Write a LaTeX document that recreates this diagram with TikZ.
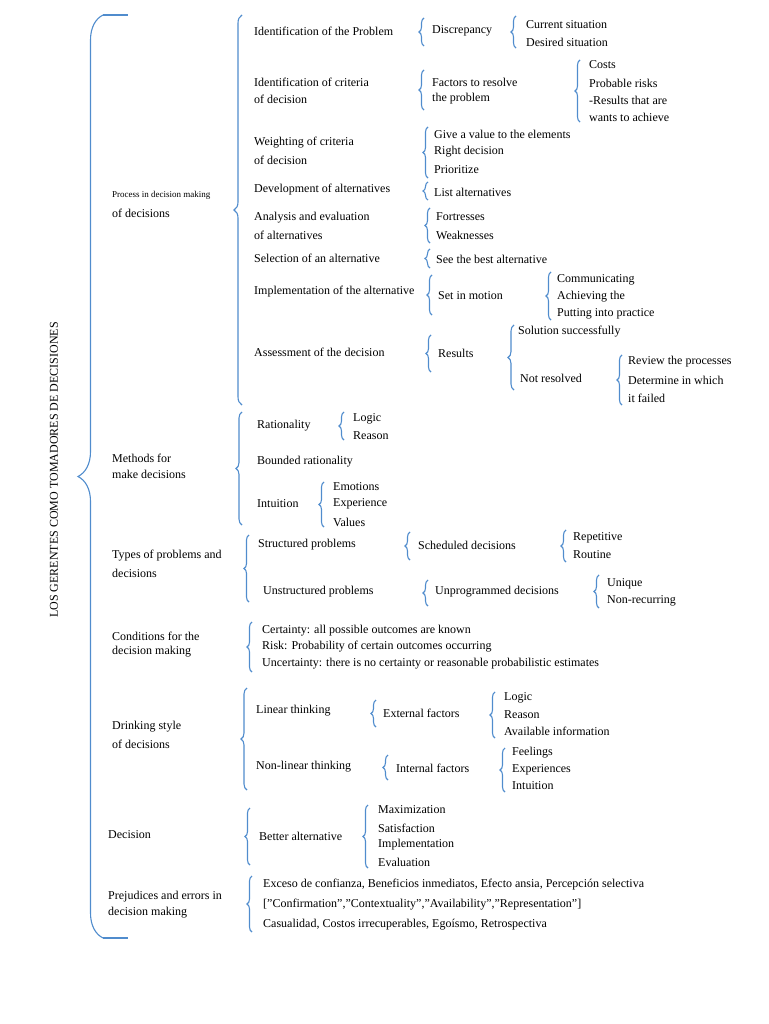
\documentclass[tikz,border=0pt]{standalone}
\usepackage{fontspec}
\setmainfont{Liberation Serif}
\usetikzlibrary{decorations.pathreplacing}
\definecolor{bc}{RGB}{80,140,205}
\tikzset{
 t/.style={anchor=west,inner sep=0pt,font=\fontsize{12}{14}\selectfont},
 ts/.style={anchor=west,inner sep=0pt,font=\fontsize{9}{11}\selectfont},
 brc/.style={draw=bc,line width=1.1pt,decorate,decoration={brace,amplitude=#1,aspect=0.5}},
 brc/.default=5
}
\newcommand\B[4][5]{\draw[brc=#1] (#2,#4) -- (#2,#3);}
\newcommand\T[3]{\node[t] at (#1,#2) {#3};}
\begin{document}
\begin{tikzpicture}[x=1pt,y=-1pt]
\useasboundingbox (0,0) rectangle (768,1024);
% main
\node[rotate=90,inner sep=0pt,font=\fontsize{12}{14}\selectfont] (title) at (54,470) {LOS GERENTES COMO TOMADORES DE DECISIONES};
\draw[brc=25] (103,938) -- (103,15);
\draw[draw=bc,line width=1.1pt] (103,15) -- (128,15) (103,938) -- (128,938);
% level 1
\node[ts] (p1) at (112,195) {Process in decision making};
\T{112}{213}{of decisions}
\T{112}{458}{Methods for}\T{112}{474}{make decisions}
\T{112}{556}{Types of problems and}\T{112}{573}{decisions}
\T{112}{636}{Conditions for the}\T{112}{652}{decision making}
\T{112}{727}{Drinking style}\T{112}{744}{of decisions}
\T{108}{835}{Decision}
\T{108}{897}{Prejudices and errors in}\T{108}{913}{decision making}
% level 1 braces
\B[8]{242}{15}{405}
\B[6]{242}{412}{525}
\B{249}{535}{602}
\B{252}{622}{672}
\B[6]{247}{688}{790}
\B{250}{808}{865}
\B{252}{876}{932}
% Process
\T{254}{31}{Identification of the Problem}
\B{424}{18}{46}\T{432}{31}{Discrepancy}
\B{516}{16}{48}\T{526}{25}{Current situation}\T{526}{42}{Desired situation}
\T{254}{82}{Identification of criteria}\T{254}{99}{of decision}
\B{424}{70}{110}\T{432}{82}{Factors to resolve}\T{432}{99}{the problem}
\B{580}{60}{122}\T{589}{65}{Costs}\T{589}{83}{Probable risks}\T{589}{100}{-Results that are}\T{589}{117}{wants to achieve}
\T{254}{143}{Weighting of criteria}\T{254}{160}{of decision}
\B{428}{127}{178}\T{434}{134}{Give a value to the elements}\T{434}{152}{Right decision}\T{434}{170}{Prioritize}
\T{254}{190}{Development of alternatives}
\B{428}{182}{200}\T{434}{192}{List alternatives}
\T{254}{218}{Analysis and evaluation}\T{254}{235}{of alternatives}
\B{430}{208}{243}\T{436}{217}{Fortresses}\T{436}{235}{Weaknesses}
\T{254}{258}{Selection of an alternative}
\B{430}{249}{268}\T{436}{259}{See the best alternative}
\T{254}{292}{Implementation of the alternative}
\B{432}{275}{315}\T{438}{296}{Set in motion}
\B{551}{272}{320}\T{557}{280}{Communicating}\T{557}{297}{Achieving the}\T{557}{314}{Putting into practice}
\T{254}{352}{Assessment of the decision}
\B{431}{335}{372}\T{438}{353}{Results}
\B[6]{514}{325}{390}\T{518}{332}{Solution successfully}\T{520}{378}{Not resolved}
\B{622}{355}{405}\T{628}{362}{Review the processes}\T{628}{380}{Determine in which}\T{628}{398}{it failed}
% Methods
\T{257}{426}{Rationality}
\B{344}{412}{440}\T{353}{419}{Logic}\T{353}{436}{Reason}
\T{257}{462}{Bounded rationality}
\T{257}{504}{Intuition}
\B{324}{482}{527}\T{333}{487}{Emotions}\T{333}{504}{Experience}\T{333}{522}{Values}
% Types
\T{258}{545}{Structured problems}
\B{410}{532}{560}\T{418}{545}{Scheduled decisions}
\B{566}{530}{562}\T{573}{538}{Repetitive}\T{573}{555}{Routine}
\T{263}{592}{Unstructured problems}
\B{428}{580}{606}\T{435}{592}{Unprogrammed decisions}
\B{599}{575}{608}\T{607}{584}{Unique}\T{607}{601}{Non-recurring}
% Conditions
\T{262}{631}{Certainty: all possible outcomes are known}
\T{262}{647}{Risk: Probability of certain outcomes occurring}
\T{262}{664}{Uncertainty: there is no certainty or reasonable probabilistic estimates}
% Drinking
\T{256}{711}{Linear thinking}
\B{376}{700}{727}\T{383}{713}{External factors}
\B{495}{692}{738}\T{504}{698}{Logic}\T{504}{715}{Reason}\T{504}{731}{Available information}
\T{256}{767}{Non-linear thinking}
\B{388}{755}{780}\T{396}{768}{Internal factors}
\B{505}{748}{792}\T{512}{753}{Feelings}\T{512}{770}{Experiences}\T{512}{786}{Intuition}
% Decision
\T{259}{836}{Better alternative}
\B{368}{805}{868}\T{378}{810}{Maximization}\T{378}{828}{Satisfaction}\T{378}{845}{Implementation}\T{378}{862}{Evaluation}
% Prejudices
\T{263}{885}{Exceso de confianza, Beneficios inmediatos, Efecto ansia, Percepción selectiva}
\T{263}{905}{["Confirmation","Contextuality","Availability","Representation"]}
\T{263}{925}{Casualidad, Costos irrecuperables, Egoísmo, Retrospectiva}
\end{tikzpicture}
\end{document}
